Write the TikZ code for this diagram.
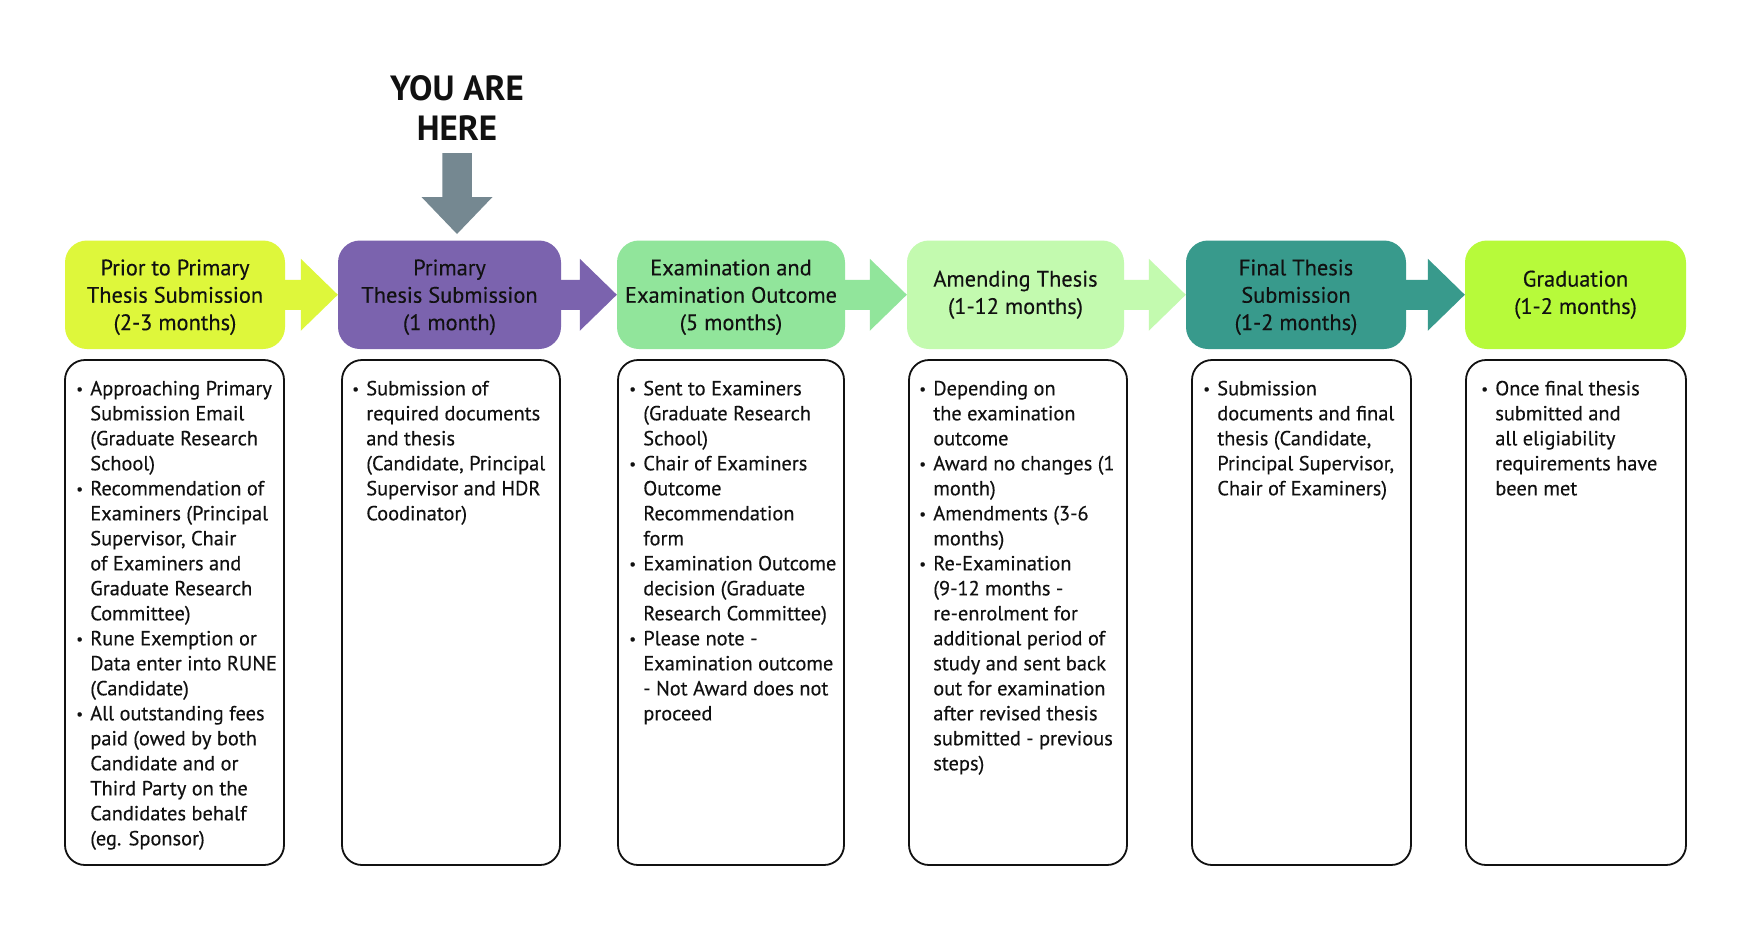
\documentclass[tikz,border=0pt]{standalone}
\usepackage{fontspec}
\setmainfont{PT Sans}[FakeBold=0.35]
\newfontfamily\hdrfont{PT Sans}[FakeBold=0.25]
\newfontfamily\herefont{PT Sans Bold}
\usetikzlibrary{calc}
\definecolor{cA}{HTML}{DEF73B}
\definecolor{cB}{HTML}{7B63AE}
\definecolor{cC}{HTML}{91E59B}
\definecolor{cD}{HTML}{C3FAAF}
\definecolor{cE}{HTML}{389A8C}
\definecolor{cF}{HTML}{B7FA3A}
\definecolor{cG}{HTML}{758891}
\definecolor{ink}{HTML}{111111}
\newcommand\bl{\rule{0pt}{15pt}\makebox[14pt][l]{\raisebox{1.2pt}{\fontsize{15}{15}\selectfont\textbullet}}}
\newcommand\ii{\hspace*{14pt}}
\begin{document}
\begin{tikzpicture}[x=1pt,y=-1pt,
  hdr/.style={rounded corners=22pt, minimum height=108.5pt, inner sep=0pt},
  hdrtxt/.style={inner sep=0pt, align=center, text=ink, font=\hdrfont\fontsize{22.4}{27.4}\selectfont},
  det/.style={draw=ink, line width=1.8pt, rounded corners=20pt, inner sep=0pt, minimum height=505pt},
  txt/.style={anchor=north west, inner sep=0pt, align=left, text=ink, font=\fontsize{20.4}{25}\selectfont}]
\useasboundingbox[fill=white] (0,0) rectangle (1754,938);

% header boxes
\node[hdr, fill=cA, minimum width=220pt] (h1) at (175,294.75) {};
\node[hdr, fill=cB, minimum width=223pt] (h2) at (449.5,294.75) {};
\node[hdr, fill=cC, minimum width=228pt] (h3) at (731,294.75) {};
\node[hdr, fill=cD, minimum width=217pt] (h4) at (1015.5,294.75) {};
\node[hdr, fill=cE, minimum width=220pt] (h5) at (1296,294.75) {};
\node[hdr, fill=cF, minimum width=221pt] (h6) at (1575.5,294.75) {};

\node[hdrtxt] (h1t) at ($(h1.center)+(0,2.5)$) {Prior to Primary\\Thesis Submission\\(2-3 months)};
\node[hdrtxt] (h2t) at ($(h2.center)+(0,2.5)$) {Primary\\Thesis Submission\\(1 month)};
\node[hdrtxt] (h3t) at ($(h3.center)+(0,2.5)$) {Examination and\\Examination Outcome\\(5 months)};
\node[hdrtxt] (h4t) at ($(h4.center)+(0,0)$) {Amending Thesis\\(1-12 months)};
\node[hdrtxt] (h5t) at ($(h5.center)+(0,2.5)$) {Final Thesis\\Submission\\(1-2 months)};
\node[hdrtxt] (h6t) at ($(h6.center)+(0,0)$) {Graduation\\(1-2 months)};

% chevron connectors
\foreach \a/\b/\c in {h1/h2/cA, h2/h3/cB, h3/h4/cC, h4/h5/cD, h5/h6/cE}{
  \fill[\c] ($(\a.east)+(-6,-15)$) -- ($(\b.west)+(-37,-15)$) -- ($(\b.west)+(-37,-36)$) -- (\b.west)
     -- ($(\b.west)+(-37,36)$) -- ($(\b.west)+(-37,15)$) -- ($(\a.east)+(-6,15)$) -- cycle;
}

% you are here
\node[anchor=south, inner sep=0pt, align=center, text=ink, font=\herefont\fontsize{35}{40}\selectfont] (here) at (457,141) {YOU ARE\\HERE};
\fill[cG] ($(here.south)+(-14.75,12)$) -- ($(here.south)+(14.75,12)$) -- ($(here.south)+(14.75,56)$)
  -- ($(here.south)+(35.5,56)$) -- ($(here.south)+(0,93)$) -- ($(here.south)+(-35.5,56)$)
  -- ($(here.south)+(-14.75,56)$) -- cycle;

% detail boxes
\node[det, minimum width=219pt] (d1) at (174.5,612.5) {};
\node[det, minimum width=218pt] (d2) at (451,612.5) {};
\node[det, minimum width=226pt] (d3) at (731,612.5) {};
\node[det, minimum width=218pt] (d4) at (1018,612.5) {};
\node[det, minimum width=219pt] (d5) at (1301.5,612.5) {};
\node[det, minimum width=220pt] (d6) at (1576,612.5) {};

% detail texts
\node[txt] (t1) at ($(d1.north west)+(12,21)$) {\bl Approaching Primary\\\ii Submission Email\\\ii (Graduate Research\\\ii School)\\\bl Recommendation of\\\ii Examiners (Principal\\\ii Supervisor, Chair\\\ii of Examiners and\\\ii Graduate Research\\\ii Committee)\\\bl Rune Exemption or\\\ii Data enter into RUNE\\\ii (Candidate)\\\bl All outstanding fees\\\ii paid (owed by both\\\ii Candidate and or\\\ii Third Party on the\\\ii Candidates behalf\\\ii (eg. Sponsor)};
\node[txt] (t2) at ($(d2.north west)+(11,21)$) {\bl Submission of\\\ii required documents\\\ii and thesis\\\ii (Candidate, Principal\\\ii Supervisor and HDR\\\ii Coodinator)};
\node[txt] (t3) at ($(d3.north west)+(12,21)$) {\bl Sent to Examiners\\\ii (Graduate Research\\\ii School)\\\bl Chair of Examiners\\\ii Outcome\\\ii Recommendation\\\ii form\\\bl Examination Outcome\\\ii decision (Graduate\\\ii Research Committee)\\\bl Please note -\\\ii Examination outcome\\\ii - Not Award does not\\\ii proceed};
\node[txt] (t4) at ($(d4.north west)+(11,21)$) {\bl Depending on\\\ii the examination\\\ii outcome\\\bl Award no changes (1\\\ii month)\\\bl Amendments (3-6\\\ii months)\\\bl Re-Examination\\\ii (9-12 months -\\\ii re-enrolment for\\\ii additional period of\\\ii study and sent back\\\ii out for examination\\\ii after revised thesis\\\ii submitted - previous\\\ii steps)};
\node[txt] (t5) at ($(d5.north west)+(12,21)$) {\bl Submission\\\ii documents and final\\\ii thesis (Candidate,\\\ii Principal Supervisor,\\\ii Chair of Examiners)};
\node[txt] (t6) at ($(d6.north west)+(16,21)$) {\bl Once final thesis\\\ii submitted and\\\ii all eligiability\\\ii requirements have\\\ii been met};
\end{tikzpicture}
\end{document}
